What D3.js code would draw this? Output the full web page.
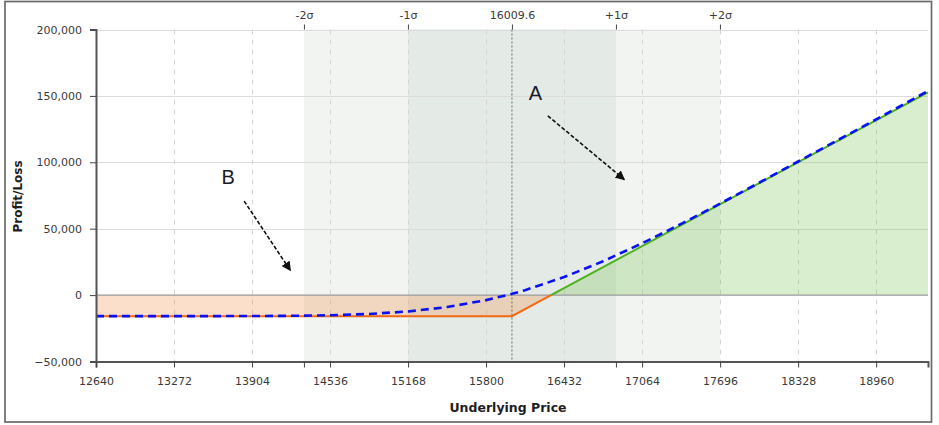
<!DOCTYPE html>
<html>
<head>
<meta charset="utf-8">
<script src="https://cdn.jsdelivr.net/npm/d3@7"></script>
<style>
  body { margin: 0; background: #fff; }
  svg text { font-family: "DejaVu Sans", Verdana, sans-serif; }
</style>
</head>
<body>
<svg id="chart" width="939" height="425"></svg>
<script>
	// ---- data ----
	var priceTicks = [12640, 13272, 13904, 14536, 15168, 15800, 16432, 17064, 17696, 18328, 18960];
	var plTicks = [-50000, 0, 50000, 100000, 150000, 200000];

	var center = 16009.6;
	var sigmaLabels = ["-2σ", "-1σ", "16009.6", "+1σ", "+2σ"];
	var sigmaPrices = [14324.6, 15167.1, 16009.6, 16852.1, 17694.6];

	// P/L at expiry (solid, orange below zero / green above)
	var expiryPrice = [12640, 16009.6, 19380];
	var expiryPL = [-15850, -15850, 152670];

	// P/L today (blue dashed)
	var todayPrice = [12640, 13272, 13904, 14220, 14536, 14852, 15168, 15484, 15800, 16009.6, 16116, 16432, 16748, 17064, 17380, 17696, 18012, 18328, 18960, 19380];
	var todayPL = [-15850, -15843, -15766, -15600, -15170, -14220, -12340, -9020, -3775, 945, 3730, 13570, 25480, 39000, 53600, 68900, 84600, 100600, 132300, 153700];

	// annotations
	var noteLabels = ["A", "B"];
	var noteText = [[16200, 147000], [13710, 83500]];
	var noteFrom = [[16300, 135000], [13840, 70800]];
	var noteTo = [[16920, 87000], [14215, 18500]];

	// ---- layout ----
	var svg = d3.select("#chart");
	var plotLeft = 96, plotRight = 928, plotTop = 29.5, plotBottom = 361.5;

	var x = d3.scaleLinear().domain([12640, 19380]).range([plotLeft, plotRight]);
	var y = d3.scaleLinear().domain([-50000, 200000]).range([plotBottom, plotTop]);

	// outer frame
	svg.append("rect")
		.attr("x", 5).attr("y", 1.5).attr("width", 926.5).attr("height", 420.5)
		.attr("fill", "#fff").attr("stroke", "#6a6a6a").attr("stroke-width", 1.7);

	// sigma bands
	svg.append("rect")
		.attr("x", x(sigmaPrices[0])).attr("y", plotTop)
		.attr("width", x(sigmaPrices[4]) - x(sigmaPrices[0])).attr("height", plotBottom - plotTop)
		.attr("fill", "#f2f4f2");
	svg.append("rect")
		.attr("x", x(sigmaPrices[1])).attr("y", plotTop)
		.attr("width", x(sigmaPrices[3]) - x(sigmaPrices[1])).attr("height", plotBottom - plotTop)
		.attr("fill", "#e4eae6");

	// horizontal grid
	svg.append("g").selectAll("line")
		.data(plTicks.filter(function(d) { return d > 0; }))
		.enter().append("line")
		.attr("x1", plotLeft).attr("x2", plotRight)
		.attr("y1", function(d) { return Math.round(y(d)) + 0.5; })
		.attr("y2", function(d) { return Math.round(y(d)) + 0.5; })
		.attr("stroke", "#dcdcdc").attr("stroke-width", 1);

	// vertical grid (dashed)
	svg.append("g").selectAll("line")
		.data(priceTicks.slice(1))
		.enter().append("line")
		.attr("x1", function(d) { return Math.round(x(d)) + 0.5; })
		.attr("x2", function(d) { return Math.round(x(d)) + 0.5; })
		.attr("y1", plotTop).attr("y2", plotBottom)
		.attr("stroke", "#d6d6d6").attr("stroke-width", 1)
		.attr("stroke-dasharray", "5,5");

	// series as [price, pl] pairs
	var expiry = expiryPrice.map(function(p, i) { return [p, expiryPL[i]]; });
	var today = todayPrice.map(function(p, i) { return [p, todayPL[i]]; });

	// clip paths above / below zero
	var defs = svg.append("defs");
	defs.append("clipPath").attr("id", "above")
		.append("rect").attr("x", plotLeft).attr("y", plotTop - 5)
		.attr("width", plotRight - plotLeft + 2).attr("height", y(0) - plotTop + 5);
	defs.append("clipPath").attr("id", "below")
		.append("rect").attr("x", plotLeft).attr("y", y(0))
		.attr("width", plotRight - plotLeft + 2).attr("height", plotBottom - y(0));

	var area = d3.area()
		.x(function(d) { return x(d[0]); })
		.y0(y(0))
		.y1(function(d) { return y(d[1]); });

	svg.append("path").datum(expiry)
		.attr("d", area).attr("clip-path", "url(#below)")
		.attr("fill", "rgb(243,131,51)").attr("fill-opacity", 0.26);
	svg.append("path").datum(expiry)
		.attr("d", area).attr("clip-path", "url(#above)")
		.attr("fill", "rgb(103,187,63)").attr("fill-opacity", 0.25);

	// zero line
	svg.append("line")
		.attr("x1", plotLeft).attr("x2", plotRight)
		.attr("y1", y(0)).attr("y2", y(0))
		.attr("stroke", "#9a9a9a").attr("stroke-width", 1.2);

	// center price dotted line
	svg.append("line")
		.attr("x1", x(center)).attr("x2", x(center))
		.attr("y1", plotTop).attr("y2", plotBottom)
		.attr("stroke", "#557755").attr("stroke-width", 1)
		.attr("stroke-dasharray", "2,2");

	var line = d3.line()
		.x(function(d) { return x(d[0]); })
		.y(function(d) { return y(d[1]); });

	svg.append("path").datum(expiry)
		.attr("d", line).attr("clip-path", "url(#below)")
		.attr("fill", "none").attr("stroke", "#f06a14").attr("stroke-width", 2);
	svg.append("path").datum(expiry)
		.attr("d", line).attr("clip-path", "url(#above)")
		.attr("fill", "none").attr("stroke", "#4cb21e").attr("stroke-width", 2);

	svg.append("path").datum(today)
		.attr("d", line)
		.attr("fill", "none").attr("stroke", "#0a12f2").attr("stroke-width", 2.6)
		.attr("stroke-dasharray", "8,5");

	// axes
	var yAxis = svg.append("g")
		.attr("transform", "translate(" + plotLeft + ",0)")
		.call(d3.axisLeft(y).tickValues(plTicks).tickFormat(d3.format(",")).tickSizeOuter(0).tickSize(6).tickPadding(8));
	var xAxis = svg.append("g")
		.attr("transform", "translate(0," + plotBottom + ")")
		.call(d3.axisBottom(x).tickValues(priceTicks.concat(sigmaPrices.filter(function(d, i) { return i == 0 || i == 3; })))
			.tickFormat(function(d) { return priceTicks.indexOf(d) >= 0 ? d : ""; })
			.tickSizeOuter(0).tickSize(6).tickPadding(10));
	var topAxis = svg.append("g")
		.attr("transform", "translate(0," + plotTop + ")")
		.call(d3.axisTop(x).tickValues(sigmaPrices)
			.tickFormat(function(d, i) { return sigmaLabels[i]; })
			.tickSize(5).tickSizeOuter(0).tickPadding(6));
	topAxis.select(".domain").remove();

	[yAxis, xAxis, topAxis].forEach(function(g) {
		g.selectAll("text").attr("fill", "#3a3a3a").style("font-size", "11px");
		g.selectAll(".tick line").attr("stroke", "#444");
		g.select(".domain").attr("stroke", "#555").attr("stroke-width", 2);
	});

	// axis titles
	svg.append("text")
		.attr("x", (plotLeft + plotRight) / 2 - 4).attr("y", 412)
		.attr("text-anchor", "middle")
		.style("font-size", "12.5px").style("font-weight", "bold").attr("fill", "#1e1e1e")
		.text("Underlying Price");
	svg.append("text")
		.attr("transform", "translate(22," + ((plotTop + plotBottom) / 2 + 1) + ") rotate(-90)")
		.attr("text-anchor", "middle")
		.style("font-size", "12px").style("font-weight", "bold").attr("fill", "#1e1e1e")
		.text("Profit/Loss");

	// annotations
	defs.append("marker").attr("id", "arrow")
		.attr("viewBox", "0 0 10 10").attr("refX", 9).attr("refY", 5)
		.attr("markerWidth", 6).attr("markerHeight", 6).attr("orient", "auto")
		.append("path").attr("d", "M0,0 L10,5 L0,10 z").attr("fill", "#111");

	noteLabels.forEach(function(lbl, i) {
		svg.append("text")
			.attr("x", x(noteText[i][0])).attr("y", y(noteText[i][1]))
			.attr("text-anchor", "middle")
			.style("font-family", "'Liberation Sans', Arial, sans-serif")
			.style("font-size", "20px").attr("fill", "#1a1a2a")
			.text(lbl);
		svg.append("line")
			.attr("x1", x(noteFrom[i][0])).attr("y1", y(noteFrom[i][1]))
			.attr("x2", x(noteTo[i][0])).attr("y2", y(noteTo[i][1]))
			.attr("stroke", "#111").attr("stroke-width", 1.6)
			.attr("stroke-dasharray", "4,2")
			.attr("marker-end", "url(#arrow)");
	});
</script>
</body>
</html>
